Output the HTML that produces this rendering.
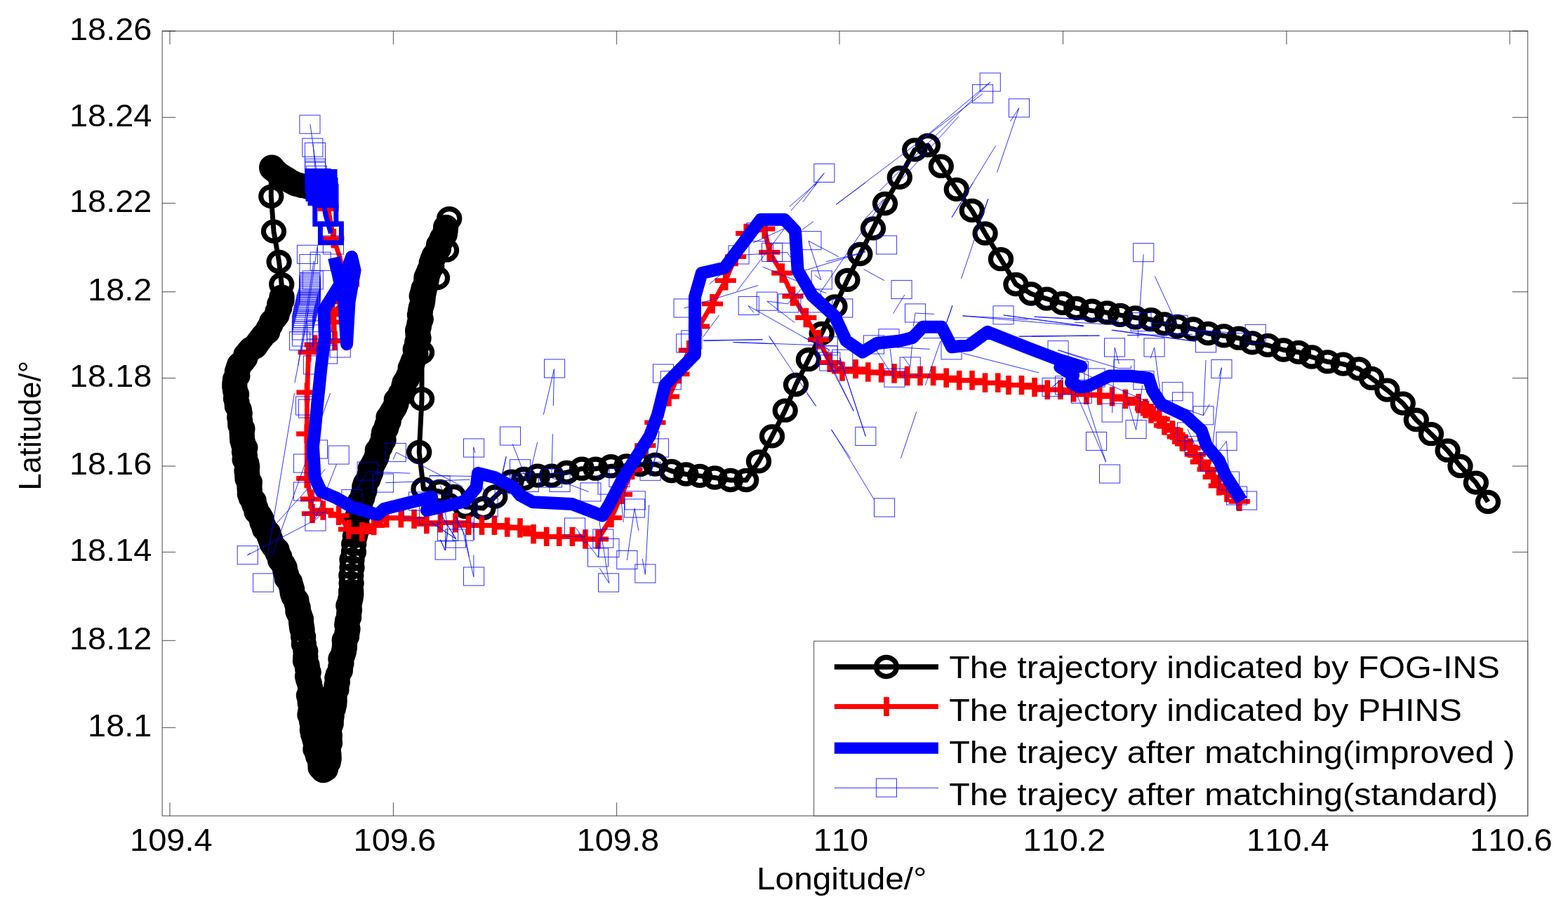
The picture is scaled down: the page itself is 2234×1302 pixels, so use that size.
<!DOCTYPE html>
<html lang="en"><head><meta charset="utf-8"><title>Trajectory comparison</title>
<style>html,body{margin:0;padding:0;background:#fff}body{width:2234px;height:1302px;overflow:hidden}svg{display:block;filter:blur(0.5px)}</style></head>
<body>
<svg width="2234" height="1302" viewBox="0 0 2234 1302" role="img" aria-label="Trajectory comparison chart">
<rect x="0" y="0" width="2234" height="1302" fill="#fff"/>
<g id="axes" fill="none" stroke="#000" stroke-opacity="0.55" stroke-width="1.3">
<rect x="231.2" y="44.3" width="1945.4" height="1117.9"/>
<line x1="242" y1="1162.2" x2="242" y2="1143.2"/>
<line x1="242" y1="44.3" x2="242" y2="63.3"/>
<line x1="560.5" y1="1162.2" x2="560.5" y2="1143.2"/>
<line x1="560.5" y1="44.3" x2="560.5" y2="63.3"/>
<line x1="878.5" y1="1162.2" x2="878.5" y2="1143.2"/>
<line x1="878.5" y1="44.3" x2="878.5" y2="63.3"/>
<line x1="1196" y1="1162.2" x2="1196" y2="1143.2"/>
<line x1="1196" y1="44.3" x2="1196" y2="63.3"/>
<line x1="1514.5" y1="1162.2" x2="1514.5" y2="1143.2"/>
<line x1="1514.5" y1="44.3" x2="1514.5" y2="63.3"/>
<line x1="1833" y1="1162.2" x2="1833" y2="1143.2"/>
<line x1="1833" y1="44.3" x2="1833" y2="63.3"/>
<line x1="2151" y1="1162.2" x2="2151" y2="1143.2"/>
<line x1="2151" y1="44.3" x2="2151" y2="63.3"/>
<line x1="231.2" y1="44.3" x2="250.2" y2="44.3"/>
<line x1="2176.6" y1="44.3" x2="2154.6" y2="44.3"/>
<line x1="231.2" y1="167.3" x2="250.2" y2="167.3"/>
<line x1="2176.6" y1="167.3" x2="2154.6" y2="167.3"/>
<line x1="231.2" y1="289.5" x2="250.2" y2="289.5"/>
<line x1="2176.6" y1="289.5" x2="2154.6" y2="289.5"/>
<line x1="231.2" y1="415.7" x2="250.2" y2="415.7"/>
<line x1="2176.6" y1="415.7" x2="2154.6" y2="415.7"/>
<line x1="231.2" y1="538.6" x2="250.2" y2="538.6"/>
<line x1="2176.6" y1="538.6" x2="2154.6" y2="538.6"/>
<line x1="231.2" y1="664" x2="250.2" y2="664"/>
<line x1="2176.6" y1="664" x2="2154.6" y2="664"/>
<line x1="231.2" y1="786.5" x2="250.2" y2="786.5"/>
<line x1="2176.6" y1="786.5" x2="2154.6" y2="786.5"/>
<line x1="231.2" y1="912.5" x2="250.2" y2="912.5"/>
<line x1="231.2" y1="1036.5" x2="250.2" y2="1036.5"/>
</g>
<g id="labels" font-family="'Liberation Sans', Arial, Helvetica, sans-serif" font-size="44.5" fill="#000" style="font-kerning:none">
<text transform="translate(243.9 1212.1) scale(1.058 1)" text-anchor="middle">109.4</text>
<text transform="translate(562.4 1212.1) scale(1.058 1)" text-anchor="middle">109.6</text>
<text transform="translate(880.4 1212.1) scale(1.058 1)" text-anchor="middle">109.8</text>
<text transform="translate(1197.9 1212.1) scale(1.058 1)" text-anchor="middle">110</text>
<text transform="translate(1516.4 1212.1) scale(1.058 1)" text-anchor="middle">110.2</text>
<text transform="translate(1834.9 1212.1) scale(1.058 1)" text-anchor="middle">110.4</text>
<text transform="translate(2152.9 1212.1) scale(1.058 1)" text-anchor="middle">110.6</text>
<text transform="translate(216.4 56.6) scale(1.055 1)" text-anchor="end">18.26</text>
<text transform="translate(216.4 179.6) scale(1.055 1)" text-anchor="end">18.24</text>
<text transform="translate(216.4 301.8) scale(1.055 1)" text-anchor="end">18.22</text>
<text transform="translate(216.4 428) scale(1.055 1)" text-anchor="end">18.2</text>
<text transform="translate(216.4 550.9) scale(1.055 1)" text-anchor="end">18.18</text>
<text transform="translate(216.4 676.3) scale(1.055 1)" text-anchor="end">18.16</text>
<text transform="translate(216.4 798.8) scale(1.055 1)" text-anchor="end">18.14</text>
<text transform="translate(216.4 924.8) scale(1.055 1)" text-anchor="end">18.12</text>
<text transform="translate(216.4 1048.8) scale(1.055 1)" text-anchor="end">18.1</text>
<text transform="translate(1078 1267.2) scale(1.074 1)" text-anchor="start">Longitude/°</text>
<text transform="translate(58.0 698.6) scale(1.0 0.98) rotate(-90)" text-anchor="start">Latitude/°</text>
</g>
<clipPath id="cp"><rect x="231.2" y="44.3" width="1945.4" height="1117.9"/></clipPath>
<g id="plot" clip-path="url(#cp)">
<g id="fog" stroke="#000" fill="none">
<polyline stroke-width="7" stroke-linejoin="round" points="455,268 429,265 408,255.6 394,245 386.5,240 386.3,236.5 386.3,279.8 390,329.6 397.6,373 401.2,405 401,422.5 398.5,439 384,466 371.6,484 353.7,501.7 341,521 335,541 335,559 338.5,577 342,595 344,613 347.4,635.8 352,671.6 357.3,707.4 371.6,739.7 386,770 400.3,797 414.6,835.8 425.3,868 430.7,896.7 430.7,896.7 434.3,925.3 435.6,936 435.6,936 437.9,954 441.4,979 441.5,1000 443,1021.6 448.6,1057.4 454.5,1083 458.5,1095.5 461.5,1099.3 465.5,1094 468,1080 468.8,1057.4 470.5,1030.6 475.5,1003.7 479,976.9 484.4,952.2 489.8,925.3 494.3,900.3 497,871.6 500,842 500,842 500.5,835.8 501.5,800 505,770 506.5,758 506.5,758 509.5,734.3 518.4,698.5 531,662.7 545.3,626.9 552.5,600 563,577 575.7,550 586.5,523 593.6,496 596,473 599,448 602.6,416 610,390 618.7,364.9 631,338 636.5,322 640.2,311.2 636,356.5 623,396 601,502 601,568.3 597.2,644 603.5,696.5 626.6,700 646.5,707 663,722 688.5,724 705.3,707.5 728.6,685.6 746.5,682 766,677.6 786,677.6 807.4,673 829,667.7 848.6,667.7 870.5,664.2 892.5,663.4 912,662 933.8,661.6 956.8,671 977.4,675.5 997,677.9 1018.5,680.5 1040.8,684 1063.2,684 1081,657.3 1100,621.4 1118.7,584.7 1134,548 1151.9,512.2 1170.7,474.9 1189.5,436.4 1207.4,398.8 1225.3,362 1244,325.4 1261,290 1281.8,252.8 1303.2,213.4 1322,207 1340.8,236.7 1362.8,269.8 1384.8,299.8 1403.6,332.5 1426,369.2 1447.4,405 1469,418.5 1491.3,425.6 1513.7,431.9 1533.4,439 1555.8,442.6 1577.2,445.3 1596,448.9 1617.5,452.5 1640,455.2 1658.7,461.4 1677.5,465 1700,468.5 1721.3,475 1743.6,478.3 1765,481.7 1784,488.4 1806.3,491.8 1828.7,498.5 1850,501.8 1869,508.5 1891.4,515.3 1913.7,518.6 1936,525.3 1954,538.8 1976.4,555.6 1998.8,574.6 2017.8,598 2039,618.2 2062.6,641.7 2080.5,664 2102.9,687.6 2120,715"/>
<g stroke-width="7.1">
<ellipse cx="455.1" cy="267.1" rx="14.6" ry="13.6"/>
<ellipse cx="452.1" cy="267.3" rx="14.6" ry="13.6"/>
<ellipse cx="449" cy="267.9" rx="14.6" ry="13.6"/>
<ellipse cx="446" cy="267.3" rx="14.6" ry="13.6"/>
<ellipse cx="443" cy="267" rx="14.6" ry="13.6"/>
<ellipse cx="440" cy="267" rx="14.6" ry="13.6"/>
<ellipse cx="437.1" cy="265.8" rx="14.6" ry="13.6"/>
<ellipse cx="434.2" cy="264.8" rx="14.6" ry="13.6"/>
<ellipse cx="431.2" cy="265" rx="14.6" ry="13.6"/>
<ellipse cx="428.4" cy="264.3" rx="14.6" ry="13.6"/>
<ellipse cx="425.7" cy="263" rx="14.6" ry="13.6"/>
<ellipse cx="422.6" cy="262.7" rx="14.6" ry="13.6"/>
<ellipse cx="419.7" cy="261.7" rx="14.6" ry="13.6"/>
<ellipse cx="417.2" cy="259.9" rx="14.6" ry="13.6"/>
<ellipse cx="414.4" cy="258.8" rx="14.6" ry="13.6"/>
<ellipse cx="411.8" cy="257.4" rx="14.6" ry="13.6"/>
<ellipse cx="409.4" cy="255.3" rx="14.6" ry="13.6"/>
<ellipse cx="407" cy="253.9" rx="14.6" ry="13.6"/>
<ellipse cx="404.1" cy="252.7" rx="14.6" ry="13.6"/>
<ellipse cx="401.8" cy="250.8" rx="14.6" ry="13.6"/>
<ellipse cx="399.3" cy="249.2" rx="14.6" ry="13.6"/>
<ellipse cx="396.4" cy="248" rx="14.6" ry="13.6"/>
<ellipse cx="394.3" cy="245.8" rx="14.6" ry="13.6"/>
<ellipse cx="392.3" cy="243.5" rx="14.6" ry="13.6"/>
<ellipse cx="389.6" cy="242.1" rx="14.6" ry="13.6"/>
<ellipse cx="387.4" cy="240" rx="14.6" ry="13.6"/>
<ellipse cx="387.3" cy="237.7" rx="14.6" ry="13.6"/>
<ellipse cx="386.3" cy="279.8" rx="14.6" ry="13.6"/>
<ellipse cx="390" cy="329.6" rx="14.6" ry="13.6"/>
<ellipse cx="397.6" cy="373" rx="14.6" ry="13.6"/>
<ellipse cx="401.2" cy="405" rx="14.6" ry="13.6"/>
<ellipse cx="401.5" cy="422.6" rx="14.6" ry="13.6"/>
<ellipse cx="401.5" cy="428.1" rx="14.6" ry="13.6"/>
<ellipse cx="398.2" cy="433.2" rx="14.6" ry="13.6"/>
<ellipse cx="398.2" cy="438.8" rx="14.6" ry="13.6"/>
<ellipse cx="395.5" cy="443.4" rx="14.6" ry="13.6"/>
<ellipse cx="394.5" cy="449.1" rx="14.6" ry="13.6"/>
<ellipse cx="391.2" cy="453.6" rx="14.6" ry="13.6"/>
<ellipse cx="387.3" cy="457.7" rx="14.6" ry="13.6"/>
<ellipse cx="385.3" cy="462.9" rx="14.6" ry="13.6"/>
<ellipse cx="382.5" cy="467.6" rx="14.6" ry="13.6"/>
<ellipse cx="381" cy="473.3" rx="14.6" ry="13.6"/>
<ellipse cx="376.2" cy="476.6" rx="14.6" ry="13.6"/>
<ellipse cx="372.9" cy="481" rx="14.6" ry="13.6"/>
<ellipse cx="369.6" cy="485.2" rx="14.6" ry="13.6"/>
<ellipse cx="366.3" cy="489.7" rx="14.6" ry="13.6"/>
<ellipse cx="363.2" cy="494.4" rx="14.6" ry="13.6"/>
<ellipse cx="357.6" cy="496.6" rx="14.6" ry="13.6"/>
<ellipse cx="354.1" cy="500.8" rx="14.6" ry="13.6"/>
<ellipse cx="350.5" cy="505.1" rx="14.6" ry="13.6"/>
<ellipse cx="349.1" cy="510.8" rx="14.6" ry="13.6"/>
<ellipse cx="345.7" cy="515.2" rx="14.6" ry="13.6"/>
<ellipse cx="341.3" cy="518.9" rx="14.6" ry="13.6"/>
<ellipse cx="339.6" cy="524.3" rx="14.6" ry="13.6"/>
<ellipse cx="337.9" cy="529.5" rx="14.6" ry="13.6"/>
<ellipse cx="338.4" cy="535.4" rx="14.6" ry="13.6"/>
<ellipse cx="335.1" cy="540.1" rx="14.6" ry="13.6"/>
<ellipse cx="334.4" cy="545.6" rx="14.6" ry="13.6"/>
<ellipse cx="334.3" cy="551.1" rx="14.6" ry="13.6"/>
<ellipse cx="335.1" cy="556.6" rx="14.6" ry="13.6"/>
<ellipse cx="337.1" cy="561.8" rx="14.6" ry="13.6"/>
<ellipse cx="336" cy="567.6" rx="14.6" ry="13.6"/>
<ellipse cx="337.4" cy="573" rx="14.6" ry="13.6"/>
<ellipse cx="337.8" cy="578.5" rx="14.6" ry="13.6"/>
<ellipse cx="340.8" cy="583.5" rx="14.6" ry="13.6"/>
<ellipse cx="341.7" cy="588.9" rx="14.6" ry="13.6"/>
<ellipse cx="341.2" cy="594.6" rx="14.6" ry="13.6"/>
<ellipse cx="342.1" cy="600" rx="14.6" ry="13.6"/>
<ellipse cx="342.3" cy="605.5" rx="14.6" ry="13.6"/>
<ellipse cx="345.4" cy="610.7" rx="14.6" ry="13.6"/>
<ellipse cx="344.6" cy="616.3" rx="14.6" ry="13.6"/>
<ellipse cx="344.9" cy="621.8" rx="14.6" ry="13.6"/>
<ellipse cx="345.3" cy="627.3" rx="14.6" ry="13.6"/>
<ellipse cx="346.8" cy="632.7" rx="14.6" ry="13.6"/>
<ellipse cx="349.3" cy="637.9" rx="14.6" ry="13.6"/>
<ellipse cx="348" cy="643.6" rx="14.6" ry="13.6"/>
<ellipse cx="348.9" cy="649" rx="14.6" ry="13.6"/>
<ellipse cx="348.6" cy="654.6" rx="14.6" ry="13.6"/>
<ellipse cx="351.3" cy="659.8" rx="14.6" ry="13.6"/>
<ellipse cx="352.2" cy="665.2" rx="14.6" ry="13.6"/>
<ellipse cx="351.5" cy="670.9" rx="14.6" ry="13.6"/>
<ellipse cx="352.3" cy="676.3" rx="14.6" ry="13.6"/>
<ellipse cx="352.5" cy="681.9" rx="14.6" ry="13.6"/>
<ellipse cx="355.8" cy="686.9" rx="14.6" ry="13.6"/>
<ellipse cx="355.4" cy="692.5" rx="14.6" ry="13.6"/>
<ellipse cx="355.7" cy="698.1" rx="14.6" ry="13.6"/>
<ellipse cx="355.8" cy="703.6" rx="14.6" ry="13.6"/>
<ellipse cx="357.6" cy="709" rx="14.6" ry="13.6"/>
<ellipse cx="361.6" cy="713.2" rx="14.6" ry="13.6"/>
<ellipse cx="362.2" cy="718.9" rx="14.6" ry="13.6"/>
<ellipse cx="364.5" cy="723.9" rx="14.6" ry="13.6"/>
<ellipse cx="365.6" cy="729.5" rx="14.6" ry="13.6"/>
<ellipse cx="369.6" cy="733.7" rx="14.6" ry="13.6"/>
<ellipse cx="372.3" cy="738.5" rx="14.6" ry="13.6"/>
<ellipse cx="373.4" cy="744" rx="14.6" ry="13.6"/>
<ellipse cx="375.6" cy="749.1" rx="14.6" ry="13.6"/>
<ellipse cx="377.2" cy="754.4" rx="14.6" ry="13.6"/>
<ellipse cx="381.9" cy="758.3" rx="14.6" ry="13.6"/>
<ellipse cx="383.5" cy="763.6" rx="14.6" ry="13.6"/>
<ellipse cx="385.4" cy="768.8" rx="14.6" ry="13.6"/>
<ellipse cx="387.1" cy="774.1" rx="14.6" ry="13.6"/>
<ellipse cx="390" cy="778.8" rx="14.6" ry="13.6"/>
<ellipse cx="394.4" cy="782.7" rx="14.6" ry="13.6"/>
<ellipse cx="395.7" cy="788.2" rx="14.6" ry="13.6"/>
<ellipse cx="398.3" cy="793.1" rx="14.6" ry="13.6"/>
<ellipse cx="399.3" cy="798.5" rx="14.6" ry="13.6"/>
<ellipse cx="402.9" cy="803.1" rx="14.6" ry="13.6"/>
<ellipse cx="405.5" cy="808" rx="14.6" ry="13.6"/>
<ellipse cx="406.4" cy="813.5" rx="14.6" ry="13.6"/>
<ellipse cx="408.1" cy="818.8" rx="14.6" ry="13.6"/>
<ellipse cx="408.8" cy="824.3" rx="14.6" ry="13.6"/>
<ellipse cx="413.1" cy="828.6" rx="14.6" ry="13.6"/>
<ellipse cx="414.5" cy="834" rx="14.6" ry="13.6"/>
<ellipse cx="416" cy="839.3" rx="14.6" ry="13.6"/>
<ellipse cx="416.7" cy="844.9" rx="14.6" ry="13.6"/>
<ellipse cx="418.4" cy="850.1" rx="14.6" ry="13.6"/>
<ellipse cx="422.3" cy="854.6" rx="14.6" ry="13.6"/>
<ellipse cx="422.9" cy="860.2" rx="14.6" ry="13.6"/>
<ellipse cx="424.7" cy="865.4" rx="14.6" ry="13.6"/>
<ellipse cx="424.4" cy="871" rx="14.6" ry="13.6"/>
<ellipse cx="426.9" cy="876.2" rx="14.6" ry="13.6"/>
<ellipse cx="428.9" cy="881.4" rx="14.6" ry="13.6"/>
<ellipse cx="429.1" cy="886.9" rx="14.6" ry="13.6"/>
<ellipse cx="429.8" cy="892.4" rx="14.6" ry="13.6"/>
<ellipse cx="430.6" cy="896.7" rx="14.6" ry="13.6"/>
<ellipse cx="432.1" cy="907" rx="14.6" ry="13.6"/>
<ellipse cx="432.9" cy="917.4" rx="14.6" ry="13.6"/>
<ellipse cx="435.3" cy="927.6" rx="14.6" ry="13.6"/>
<ellipse cx="435.3" cy="936" rx="14.6" ry="13.6"/>
<ellipse cx="435" cy="941.6" rx="14.6" ry="13.6"/>
<ellipse cx="437.4" cy="946.9" rx="14.6" ry="13.6"/>
<ellipse cx="438" cy="952.3" rx="14.6" ry="13.6"/>
<ellipse cx="439.7" cy="957.6" rx="14.6" ry="13.6"/>
<ellipse cx="438" cy="963.4" rx="14.6" ry="13.6"/>
<ellipse cx="439.3" cy="968.8" rx="14.6" ry="13.6"/>
<ellipse cx="441" cy="974.1" rx="14.6" ry="13.6"/>
<ellipse cx="442.1" cy="979.6" rx="14.6" ry="13.6"/>
<ellipse cx="442.2" cy="985.1" rx="14.6" ry="13.6"/>
<ellipse cx="439.9" cy="990.6" rx="14.6" ry="13.6"/>
<ellipse cx="441.5" cy="996.1" rx="14.6" ry="13.6"/>
<ellipse cx="441.7" cy="1001.6" rx="14.6" ry="13.6"/>
<ellipse cx="443.2" cy="1007" rx="14.6" ry="13.6"/>
<ellipse cx="442.3" cy="1012.6" rx="14.6" ry="13.6"/>
<ellipse cx="441.4" cy="1018.2" rx="14.6" ry="13.6"/>
<ellipse cx="443.5" cy="1023.5" rx="14.6" ry="13.6"/>
<ellipse cx="444.3" cy="1028.9" rx="14.6" ry="13.6"/>
<ellipse cx="446.4" cy="1034.2" rx="14.6" ry="13.6"/>
<ellipse cx="444.9" cy="1040" rx="14.6" ry="13.6"/>
<ellipse cx="446" cy="1045.4" rx="14.6" ry="13.6"/>
<ellipse cx="447.6" cy="1050.7" rx="14.6" ry="13.6"/>
<ellipse cx="449" cy="1056" rx="14.6" ry="13.6"/>
<ellipse cx="450.6" cy="1061.3" rx="14.6" ry="13.6"/>
<ellipse cx="449.4" cy="1067.2" rx="14.6" ry="13.6"/>
<ellipse cx="451.8" cy="1072.3" rx="14.6" ry="13.6"/>
<ellipse cx="453.1" cy="1077.6" rx="14.6" ry="13.6"/>
<ellipse cx="455.7" cy="1082.7" rx="14.6" ry="13.6"/>
<ellipse cx="456.3" cy="1088.1" rx="14.6" ry="13.6"/>
<ellipse cx="456.6" cy="1093.8" rx="14.6" ry="13.6"/>
<ellipse cx="460.6" cy="1098.1" rx="14.6" ry="13.6"/>
<ellipse cx="463.9" cy="1096.1" rx="14.6" ry="13.6"/>
<ellipse cx="464.5" cy="1090.9" rx="14.6" ry="13.6"/>
<ellipse cx="467.7" cy="1085.9" rx="14.6" ry="13.6"/>
<ellipse cx="468.7" cy="1080.5" rx="14.6" ry="13.6"/>
<ellipse cx="468.4" cy="1074.9" rx="14.6" ry="13.6"/>
<ellipse cx="467.8" cy="1069.4" rx="14.6" ry="13.6"/>
<ellipse cx="467.3" cy="1063.8" rx="14.6" ry="13.6"/>
<ellipse cx="470" cy="1058.4" rx="14.6" ry="13.6"/>
<ellipse cx="469.4" cy="1052.9" rx="14.6" ry="13.6"/>
<ellipse cx="469.8" cy="1047.4" rx="14.6" ry="13.6"/>
<ellipse cx="468.6" cy="1041.8" rx="14.6" ry="13.6"/>
<ellipse cx="469.7" cy="1036.4" rx="14.6" ry="13.6"/>
<ellipse cx="471.7" cy="1031" rx="14.6" ry="13.6"/>
<ellipse cx="471.6" cy="1025.6" rx="14.6" ry="13.6"/>
<ellipse cx="472.6" cy="1020.2" rx="14.6" ry="13.6"/>
<ellipse cx="471.9" cy="1014.4" rx="14.6" ry="13.6"/>
<ellipse cx="474.9" cy="1009.4" rx="14.6" ry="13.6"/>
<ellipse cx="476.2" cy="1004" rx="14.6" ry="13.6"/>
<ellipse cx="476.6" cy="998.5" rx="14.6" ry="13.6"/>
<ellipse cx="476.5" cy="992.9" rx="14.6" ry="13.6"/>
<ellipse cx="476.2" cy="987.4" rx="14.6" ry="13.6"/>
<ellipse cx="479.4" cy="982.2" rx="14.6" ry="13.6"/>
<ellipse cx="479.4" cy="976.7" rx="14.6" ry="13.6"/>
<ellipse cx="480.8" cy="971.4" rx="14.6" ry="13.6"/>
<ellipse cx="480.3" cy="965.6" rx="14.6" ry="13.6"/>
<ellipse cx="481.9" cy="960.4" rx="14.6" ry="13.6"/>
<ellipse cx="484.8" cy="955.4" rx="14.6" ry="13.6"/>
<ellipse cx="485.2" cy="949.8" rx="14.6" ry="13.6"/>
<ellipse cx="486.4" cy="944.5" rx="14.6" ry="13.6"/>
<ellipse cx="485.4" cy="938.7" rx="14.6" ry="13.6"/>
<ellipse cx="488.3" cy="933.6" rx="14.6" ry="13.6"/>
<ellipse cx="489.9" cy="928.3" rx="14.6" ry="13.6"/>
<ellipse cx="490.8" cy="922.9" rx="14.6" ry="13.6"/>
<ellipse cx="491" cy="917.3" rx="14.6" ry="13.6"/>
<ellipse cx="490.7" cy="911.7" rx="14.6" ry="13.6"/>
<ellipse cx="494" cy="906.7" rx="14.6" ry="13.6"/>
<ellipse cx="494.5" cy="901.2" rx="14.6" ry="13.6"/>
<ellipse cx="495.5" cy="895.8" rx="14.6" ry="13.6"/>
<ellipse cx="494.2" cy="890.1" rx="14.6" ry="13.6"/>
<ellipse cx="494.9" cy="884.6" rx="14.6" ry="13.6"/>
<ellipse cx="497.1" cy="879.3" rx="14.6" ry="13.6"/>
<ellipse cx="497.2" cy="873.8" rx="14.6" ry="13.6"/>
<ellipse cx="498" cy="868.4" rx="14.6" ry="13.6"/>
<ellipse cx="496.3" cy="862.7" rx="14.6" ry="13.6"/>
<ellipse cx="498.4" cy="857.4" rx="14.6" ry="13.6"/>
<ellipse cx="499.6" cy="851.9" rx="14.6" ry="13.6"/>
<ellipse cx="500.3" cy="846.5" rx="14.6" ry="13.6"/>
<ellipse cx="500.2" cy="842" rx="14.6" ry="13.6"/>
<ellipse cx="500.6" cy="830.8" rx="14.6" ry="13.6"/>
<ellipse cx="500.3" cy="819.6" rx="14.6" ry="13.6"/>
<ellipse cx="501.5" cy="808.4" rx="14.6" ry="13.6"/>
<ellipse cx="501.5" cy="797.2" rx="14.6" ry="13.6"/>
<ellipse cx="503.9" cy="786.2" rx="14.6" ry="13.6"/>
<ellipse cx="504.2" cy="775" rx="14.6" ry="13.6"/>
<ellipse cx="505.8" cy="763.9" rx="14.6" ry="13.6"/>
<ellipse cx="507.3" cy="758.1" rx="14.6" ry="13.6"/>
<ellipse cx="507.6" cy="752.6" rx="14.6" ry="13.6"/>
<ellipse cx="508.6" cy="747.2" rx="14.6" ry="13.6"/>
<ellipse cx="507" cy="741.4" rx="14.6" ry="13.6"/>
<ellipse cx="509.2" cy="736.2" rx="14.6" ry="13.6"/>
<ellipse cx="510.9" cy="730.9" rx="14.6" ry="13.6"/>
<ellipse cx="512.5" cy="725.6" rx="14.6" ry="13.6"/>
<ellipse cx="513.1" cy="720.1" rx="14.6" ry="13.6"/>
<ellipse cx="512.8" cy="714.4" rx="14.6" ry="13.6"/>
<ellipse cx="516.2" cy="709.6" rx="14.6" ry="13.6"/>
<ellipse cx="517.3" cy="704.2" rx="14.6" ry="13.6"/>
<ellipse cx="519.4" cy="699" rx="14.6" ry="13.6"/>
<ellipse cx="519.3" cy="693.3" rx="14.6" ry="13.6"/>
<ellipse cx="521" cy="688" rx="14.6" ry="13.6"/>
<ellipse cx="524.3" cy="683.4" rx="14.6" ry="13.6"/>
<ellipse cx="526" cy="678.2" rx="14.6" ry="13.6"/>
<ellipse cx="528.3" cy="673.1" rx="14.6" ry="13.6"/>
<ellipse cx="527.8" cy="667.1" rx="14.6" ry="13.6"/>
<ellipse cx="530.9" cy="662.4" rx="14.6" ry="13.6"/>
<ellipse cx="533.5" cy="657.5" rx="14.6" ry="13.6"/>
<ellipse cx="536" cy="652.6" rx="14.6" ry="13.6"/>
<ellipse cx="537.5" cy="647.2" rx="14.6" ry="13.6"/>
<ellipse cx="537.8" cy="641.4" rx="14.6" ry="13.6"/>
<ellipse cx="541.6" cy="637" rx="14.6" ry="13.6"/>
<ellipse cx="543.5" cy="631.9" rx="14.6" ry="13.6"/>
<ellipse cx="546.6" cy="627" rx="14.6" ry="13.6"/>
<ellipse cx="546.2" cy="621.2" rx="14.6" ry="13.6"/>
<ellipse cx="547.1" cy="615.8" rx="14.6" ry="13.6"/>
<ellipse cx="550" cy="610.8" rx="14.6" ry="13.6"/>
<ellipse cx="551.4" cy="605.5" rx="14.6" ry="13.6"/>
<ellipse cx="553.6" cy="600.4" rx="14.6" ry="13.6"/>
<ellipse cx="553.5" cy="594.5" rx="14.6" ry="13.6"/>
<ellipse cx="556.6" cy="589.9" rx="14.6" ry="13.6"/>
<ellipse cx="559.4" cy="585.2" rx="14.6" ry="13.6"/>
<ellipse cx="562.4" cy="580.5" rx="14.6" ry="13.6"/>
<ellipse cx="564.4" cy="575.4" rx="14.6" ry="13.6"/>
<ellipse cx="564.8" cy="569.5" rx="14.6" ry="13.6"/>
<ellipse cx="568.6" cy="565.2" rx="14.6" ry="13.6"/>
<ellipse cx="570.9" cy="560.2" rx="14.6" ry="13.6"/>
<ellipse cx="574.5" cy="555.8" rx="14.6" ry="13.6"/>
<ellipse cx="575.3" cy="550.1" rx="14.6" ry="13.6"/>
<ellipse cx="576.6" cy="544.7" rx="14.6" ry="13.6"/>
<ellipse cx="579.8" cy="540.1" rx="14.6" ry="13.6"/>
<ellipse cx="582" cy="535" rx="14.6" ry="13.6"/>
<ellipse cx="585.1" cy="530.3" rx="14.6" ry="13.6"/>
<ellipse cx="584.7" cy="524.3" rx="14.6" ry="13.6"/>
<ellipse cx="586.9" cy="519.3" rx="14.6" ry="13.6"/>
<ellipse cx="588.7" cy="514.1" rx="14.6" ry="13.6"/>
<ellipse cx="591.1" cy="509" rx="14.6" ry="13.6"/>
<ellipse cx="592.4" cy="503.7" rx="14.6" ry="13.6"/>
<ellipse cx="591.7" cy="497.8" rx="14.6" ry="13.6"/>
<ellipse cx="593.8" cy="492.8" rx="14.6" ry="13.6"/>
<ellipse cx="594.3" cy="487.3" rx="14.6" ry="13.6"/>
<ellipse cx="596.5" cy="482" rx="14.6" ry="13.6"/>
<ellipse cx="595.5" cy="476.3" rx="14.6" ry="13.6"/>
<ellipse cx="595.1" cy="470.8" rx="14.6" ry="13.6"/>
<ellipse cx="596.8" cy="465.4" rx="14.6" ry="13.6"/>
<ellipse cx="597.7" cy="460" rx="14.6" ry="13.6"/>
<ellipse cx="599.8" cy="454.7" rx="14.6" ry="13.6"/>
<ellipse cx="598" cy="448.9" rx="14.6" ry="13.6"/>
<ellipse cx="598.9" cy="443.5" rx="14.6" ry="13.6"/>
<ellipse cx="599.8" cy="438.1" rx="14.6" ry="13.6"/>
<ellipse cx="601.5" cy="432.7" rx="14.6" ry="13.6"/>
<ellipse cx="602.4" cy="427.3" rx="14.6" ry="13.6"/>
<ellipse cx="600.7" cy="421.6" rx="14.6" ry="13.6"/>
<ellipse cx="602.3" cy="416.2" rx="14.6" ry="13.6"/>
<ellipse cx="603.6" cy="410.8" rx="14.6" ry="13.6"/>
<ellipse cx="606.9" cy="406.1" rx="14.6" ry="13.6"/>
<ellipse cx="607.2" cy="400.4" rx="14.6" ry="13.6"/>
<ellipse cx="607.5" cy="394.8" rx="14.6" ry="13.6"/>
<ellipse cx="609.8" cy="389.7" rx="14.6" ry="13.6"/>
<ellipse cx="611.8" cy="384.6" rx="14.6" ry="13.6"/>
<ellipse cx="615.2" cy="379.9" rx="14.6" ry="13.6"/>
<ellipse cx="614.8" cy="374" rx="14.6" ry="13.6"/>
<ellipse cx="616.7" cy="368.8" rx="14.6" ry="13.6"/>
<ellipse cx="618.7" cy="363.6" rx="14.6" ry="13.6"/>
<ellipse cx="622" cy="359.1" rx="14.6" ry="13.6"/>
<ellipse cx="624.9" cy="354.4" rx="14.6" ry="13.6"/>
<ellipse cx="625.1" cy="348.4" rx="14.6" ry="13.6"/>
<ellipse cx="628" cy="343.7" rx="14.6" ry="13.6"/>
<ellipse cx="630" cy="338.6" rx="14.6" ry="13.6"/>
<ellipse cx="633.8" cy="334.1" rx="14.6" ry="13.6"/>
<ellipse cx="634.6" cy="328.6" rx="14.6" ry="13.6"/>
<ellipse cx="635.2" cy="323" rx="14.6" ry="13.6"/>
<ellipse cx="640.2" cy="311.2" rx="14.6" ry="13.6"/>
<ellipse cx="636" cy="356.5" rx="14.6" ry="13.6"/>
<ellipse cx="623" cy="396" rx="14.6" ry="13.6"/>
<ellipse cx="601" cy="502" rx="14.6" ry="13.6"/>
<ellipse cx="601" cy="568.3" rx="14.6" ry="13.6"/>
<ellipse cx="597.2" cy="644" rx="14.6" ry="13.6"/>
<ellipse cx="603.5" cy="696.5" rx="14.6" ry="13.6"/>
<ellipse cx="626.6" cy="700" rx="14.6" ry="13.6"/>
<ellipse cx="646.5" cy="707" rx="14.6" ry="13.6"/>
<ellipse cx="663" cy="722" rx="14.6" ry="13.6"/>
<ellipse cx="688.5" cy="724" rx="14.6" ry="13.6"/>
<ellipse cx="705.3" cy="707.5" rx="14.6" ry="13.6"/>
<ellipse cx="728.6" cy="685.6" rx="14.6" ry="13.6"/>
<ellipse cx="746.5" cy="682" rx="14.6" ry="13.6"/>
<ellipse cx="766" cy="677.6" rx="14.6" ry="13.6"/>
<ellipse cx="786" cy="677.6" rx="14.6" ry="13.6"/>
<ellipse cx="807.4" cy="673" rx="14.6" ry="13.6"/>
<ellipse cx="829" cy="667.7" rx="14.6" ry="13.6"/>
<ellipse cx="848.6" cy="667.7" rx="14.6" ry="13.6"/>
<ellipse cx="870.5" cy="664.2" rx="14.6" ry="13.6"/>
<ellipse cx="892.5" cy="663.4" rx="14.6" ry="13.6"/>
<ellipse cx="912" cy="662" rx="14.6" ry="13.6"/>
<ellipse cx="933.8" cy="661.6" rx="14.6" ry="13.6"/>
<ellipse cx="956.8" cy="671" rx="14.6" ry="13.6"/>
<ellipse cx="977.4" cy="675.5" rx="14.6" ry="13.6"/>
<ellipse cx="997" cy="677.9" rx="14.6" ry="13.6"/>
<ellipse cx="1018.5" cy="680.5" rx="14.6" ry="13.6"/>
<ellipse cx="1040.8" cy="684" rx="14.6" ry="13.6"/>
<ellipse cx="1063.2" cy="684" rx="14.6" ry="13.6"/>
<ellipse cx="1081" cy="657.3" rx="14.6" ry="13.6"/>
<ellipse cx="1100" cy="621.4" rx="14.6" ry="13.6"/>
<ellipse cx="1118.7" cy="584.7" rx="14.6" ry="13.6"/>
<ellipse cx="1134" cy="548" rx="14.6" ry="13.6"/>
<ellipse cx="1151.9" cy="512.2" rx="14.6" ry="13.6"/>
<ellipse cx="1170.7" cy="474.9" rx="14.6" ry="13.6"/>
<ellipse cx="1189.5" cy="436.4" rx="14.6" ry="13.6"/>
<ellipse cx="1207.4" cy="398.8" rx="14.6" ry="13.6"/>
<ellipse cx="1225.3" cy="362" rx="14.6" ry="13.6"/>
<ellipse cx="1244" cy="325.4" rx="14.6" ry="13.6"/>
<ellipse cx="1261" cy="290" rx="14.6" ry="13.6"/>
<ellipse cx="1281.8" cy="252.8" rx="14.6" ry="13.6"/>
<ellipse cx="1303.2" cy="213.4" rx="14.6" ry="13.6"/>
<ellipse cx="1322" cy="207" rx="14.6" ry="13.6"/>
<ellipse cx="1340.8" cy="236.7" rx="14.6" ry="13.6"/>
<ellipse cx="1362.8" cy="269.8" rx="14.6" ry="13.6"/>
<ellipse cx="1384.8" cy="299.8" rx="14.6" ry="13.6"/>
<ellipse cx="1403.6" cy="332.5" rx="14.6" ry="13.6"/>
<ellipse cx="1426" cy="369.2" rx="14.6" ry="13.6"/>
<ellipse cx="1447.4" cy="405" rx="14.6" ry="13.6"/>
<ellipse cx="1469" cy="418.5" rx="14.6" ry="13.6"/>
<ellipse cx="1491.3" cy="425.6" rx="14.6" ry="13.6"/>
<ellipse cx="1513.7" cy="431.9" rx="14.6" ry="13.6"/>
<ellipse cx="1533.4" cy="439" rx="14.6" ry="13.6"/>
<ellipse cx="1555.8" cy="442.6" rx="14.6" ry="13.6"/>
<ellipse cx="1577.2" cy="445.3" rx="14.6" ry="13.6"/>
<ellipse cx="1596" cy="448.9" rx="14.6" ry="13.6"/>
<ellipse cx="1617.5" cy="452.5" rx="14.6" ry="13.6"/>
<ellipse cx="1640" cy="455.2" rx="14.6" ry="13.6"/>
<ellipse cx="1658.7" cy="461.4" rx="14.6" ry="13.6"/>
<ellipse cx="1677.5" cy="465" rx="14.6" ry="13.6"/>
<ellipse cx="1700" cy="468.5" rx="14.6" ry="13.6"/>
<ellipse cx="1721.3" cy="475" rx="14.6" ry="13.6"/>
<ellipse cx="1743.6" cy="478.3" rx="14.6" ry="13.6"/>
<ellipse cx="1765" cy="481.7" rx="14.6" ry="13.6"/>
<ellipse cx="1784" cy="488.4" rx="14.6" ry="13.6"/>
<ellipse cx="1806.3" cy="491.8" rx="14.6" ry="13.6"/>
<ellipse cx="1828.7" cy="498.5" rx="14.6" ry="13.6"/>
<ellipse cx="1850" cy="501.8" rx="14.6" ry="13.6"/>
<ellipse cx="1869" cy="508.5" rx="14.6" ry="13.6"/>
<ellipse cx="1891.4" cy="515.3" rx="14.6" ry="13.6"/>
<ellipse cx="1913.7" cy="518.6" rx="14.6" ry="13.6"/>
<ellipse cx="1936" cy="525.3" rx="14.6" ry="13.6"/>
<ellipse cx="1954" cy="538.8" rx="14.6" ry="13.6"/>
<ellipse cx="1976.4" cy="555.6" rx="14.6" ry="13.6"/>
<ellipse cx="1998.8" cy="574.6" rx="14.6" ry="13.6"/>
<ellipse cx="2017.8" cy="598" rx="14.6" ry="13.6"/>
<ellipse cx="2039" cy="618.2" rx="14.6" ry="13.6"/>
<ellipse cx="2062.6" cy="641.7" rx="14.6" ry="13.6"/>
<ellipse cx="2080.5" cy="664" rx="14.6" ry="13.6"/>
<ellipse cx="2102.9" cy="687.6" rx="14.6" ry="13.6"/>
<ellipse cx="2120" cy="715" rx="14.6" ry="13.6"/>
</g></g>
<g id="phins" stroke="#f00" fill="none">
<polyline stroke-width="6.8" stroke-linejoin="round" points="467.5,297.7 475.3,339.8 484,366 488,385 497,405 489,430 473.7,448 475.5,458.8 477,485.6 448.6,491 439.7,501.8 437.5,559 437.2,618 437.2,681.5 443,711 445,731.6 460.2,727 482.6,734.3 497,754 515.8,757.6 532.8,748.6 550.7,737.9 571.3,737.9 590,739.4 607.8,746.5 627.4,744.7 649,744.7 667.7,748.3 686.5,748.3 704.4,748.3 722.7,751 741,752 760,760.8 778.7,764.4 796.7,764.4 815.4,764.4 834,768 852,768 871,737.6 886,704.4 900.5,669.5 919.3,634.6 933.4,601.8 953,565 967.4,532.8 981.8,498.8 996,465 1015,432.8 1033.7,399.7 1048,365.6 1063.2,332.5 1089.2,326 1096.3,359.4 1114.3,389 1129.5,422 1148.3,452.5 1166.2,483.8 1182.2,516.3 1200,529 1219,525.6 1236.8,530 1255.6,531 1274,532 1292.7,535.5 1311,535.5 1329.6,535.5 1348.2,538.2 1366.7,541.8 1385,541.8 1403.5,545.3 1421.8,545.3 1437,548.6 1455.5,548.6 1474,551.6 1492.3,555.2 1510.8,555.2 1529.6,558.8 1547.9,562.2 1566.7,563 1584.6,564.9 1603.4,568.5 1622.2,574.7 1632,582 1640,589 1651.7,597 1659,606 1670.5,613 1677.7,622 1685,629.4 1695.6,638.3 1702.8,647.3 1710.8,658 1720.7,668.7 1728.7,679.5 1736.8,692 1748,701.5 1765.8,714.4"/>
<path stroke-width="6.8" d="M452.4 297.7h30.2M460.2 339.8h30.2M481.9 405h30.2M473.9 430h30.2M458.6 448h30.2M460.4 458.8h30.2M461.9 485.6h30.2M433.5 491h30.2M424.6 501.8h30.2M422.4 559h30.2M422.1 618h30.2M422.1 681.5h30.2M427.9 711h30.2M429.9 731.6h30.2M445.1 727h30.2M467.5 734.3h30.2M481.9 754h30.2M500.7 757.6h30.2M517.7 748.6h30.2M535.6 737.9h30.2M556.2 737.9h30.2M574.9 739.4h30.2M592.7 746.5h30.2M612.3 744.7h30.2M633.9 744.7h30.2M652.6 748.3h30.2M671.4 748.3h30.2M689.3 748.3h30.2M707.6 751h30.2M725.9 752h30.2M744.9 760.8h30.2M763.6 764.4h30.2M781.6 764.4h30.2M800.3 764.4h30.2M818.9 768h30.2M836.9 768h30.2M855.9 737.6h30.2M870.9 704.4h30.2M885.4 669.5h30.2M904.2 634.6h30.2M918.3 601.8h30.2M937.9 565h30.2M952.3 532.8h30.2M966.7 498.8h30.2M980.9 465h30.2M999.9 432.8h30.2M1018.6 399.7h30.2M1032.9 365.6h30.2M1048.1 332.5h30.2M1074.1 326h30.2M1081.2 359.4h30.2M1099.2 389h30.2M1114.4 422h30.2M1133.2 452.5h30.2M1151.1 483.8h30.2M1167.1 516.3h30.2M1184.9 529h30.2M1203.9 525.6h30.2M1221.7 530h30.2M1240.5 531h30.2M1258.9 532h30.2M1277.6 535.5h30.2M1295.9 535.5h30.2M1314.5 535.5h30.2M1333.1 538.2h30.2M1351.6 541.8h30.2M1369.9 541.8h30.2M1388.4 545.3h30.2M1406.7 545.3h30.2M1421.9 548.6h30.2M1440.4 548.6h30.2M1458.9 551.6h30.2M1477.2 555.2h30.2M1495.7 555.2h30.2M1514.5 558.8h30.2M1532.8 562.2h30.2M1551.6 563h30.2M1569.5 564.9h30.2M1588.3 568.5h30.2M1607.1 574.7h30.2M1616.9 582h30.2M1624.9 589h30.2M1636.6 597h30.2M1643.9 606h30.2M1655.4 613h30.2M1662.6 622h30.2M1669.9 629.4h30.2M1680.5 638.3h30.2M1687.7 647.3h30.2M1695.7 658h30.2M1705.6 668.7h30.2M1713.6 679.5h30.2M1721.7 692h30.2M1732.9 701.5h30.2M1750.7 714.4h30.2"/>
<path stroke-width="7.6" d="M467.5 284v27.4M475.3 326.1v27.4M497 391.3v27.4M489 416.3v27.4M473.7 434.3v27.4M475.5 445.1v27.4M477 471.9v27.4M448.6 477.3v27.4M439.7 488.1v27.4M437.5 545.3v27.4M437.2 604.3v27.4M437.2 667.8v27.4M443 697.3v27.4M445 717.9v27.4M460.2 713.3v27.4M482.6 720.6v27.4M497 740.3v27.4M515.8 743.9v27.4M532.8 734.9v27.4M550.7 724.2v27.4M571.3 724.2v27.4M590 725.7v27.4M607.8 732.8v27.4M627.4 731v27.4M649 731v27.4M667.7 734.6v27.4M686.5 734.6v27.4M704.4 734.6v27.4M722.7 737.3v27.4M741 738.3v27.4M760 747.1v27.4M778.7 750.7v27.4M796.7 750.7v27.4M815.4 750.7v27.4M834 754.3v27.4M852 754.3v27.4M871 723.9v27.4M886 690.7v27.4M900.5 655.8v27.4M919.3 620.9v27.4M933.4 588.1v27.4M953 551.3v27.4M967.4 519.1v27.4M981.8 485.1v27.4M996 451.3v27.4M1015 419.1v27.4M1033.7 386v27.4M1048 351.9v27.4M1063.2 318.8v27.4M1089.2 312.3v27.4M1096.3 345.7v27.4M1114.3 375.3v27.4M1129.5 408.3v27.4M1148.3 438.8v27.4M1166.2 470.1v27.4M1182.2 502.6v27.4M1200 515.3v27.4M1219 511.9v27.4M1236.8 516.3v27.4M1255.6 517.3v27.4M1274 518.3v27.4M1292.7 521.8v27.4M1311 521.8v27.4M1329.6 521.8v27.4M1348.2 524.5v27.4M1366.7 528.1v27.4M1385 528.1v27.4M1403.5 531.6v27.4M1421.8 531.6v27.4M1437 534.9v27.4M1455.5 534.9v27.4M1474 537.9v27.4M1492.3 541.5v27.4M1510.8 541.5v27.4M1529.6 545.1v27.4M1547.9 548.5v27.4M1566.7 549.3v27.4M1584.6 551.2v27.4M1603.4 554.8v27.4M1622.2 561v27.4M1632 568.3v27.4M1640 575.3v27.4M1651.7 583.3v27.4M1659 592.3v27.4M1670.5 599.3v27.4M1677.7 608.3v27.4M1685 615.7v27.4M1695.6 624.6v27.4M1702.8 633.6v27.4M1710.8 644.3v27.4M1720.7 655v27.4M1728.7 665.8v27.4M1736.8 678.3v27.4M1748 687.8v27.4M1765.8 700.7v27.4"/>
</g>
<g id="start" stroke="#00f" fill="none" stroke-width="7">
<polyline points="457,262 463.8,305.8 471.4,332.3"/>
<rect x="438" y="243.5" width="30" height="27"/>
<rect x="439.1" y="245.7" width="30" height="27"/>
<rect x="440.2" y="247.9" width="30" height="27"/>
<rect x="441.3" y="250.1" width="30" height="27"/>
<rect x="442.4" y="252.3" width="30" height="27"/>
<rect x="443.5" y="254.5" width="30" height="27"/>
<rect x="444.6" y="256.7" width="30" height="27"/>
<rect x="445.7" y="258.9" width="30" height="27"/>
<rect x="446.8" y="261.1" width="30" height="27"/>
<rect x="447.9" y="263.3" width="30" height="27"/>
<rect x="449" y="265.5" width="30" height="27"/>
<rect x="440" y="248.5" width="30" height="27"/>
<rect x="447" y="244.5" width="30" height="27"/>
<rect x="442" y="262.5" width="30" height="27"/>
<rect x="448" y="256.5" width="30" height="27"/>
<rect x="439" y="256.5" width="30" height="27"/>
<rect x="448.8" y="292.3" width="30" height="27"/>
<rect x="456.4" y="318.8" width="30" height="27"/>
</g>
<polyline id="improved" stroke="#00f" fill="none" stroke-width="18" stroke-linejoin="round" points="476,367 482,392 490,430 494,490.2 497.5,430 505.5,385 501,366 490,396 461.6,441.5 462.8,480.3 457.6,523 452,577 448.6,613 446,636 448.6,680.6 457.6,700.3 479,709.2 500.5,721.8 538,733.4 547,725 615,708 608,727 661.7,714.6 678.5,694.6 681,674 705.3,680.3 732.2,694.6 741,705.3 759,715.2 814.6,717.9 858.3,734.6 868.5,718 888,680.3 925.6,621.2 937,591 947.7,548 990,505 990,423 999.7,389 1032,381.8 1083.8,312.8 1117.8,312.8 1133,329 1136.6,385.3 1157.2,421 1189.4,450.4 1205.5,485.4 1228.8,501.5 1249.4,489 1282.5,485.4 1300.4,480.9 1314.7,465.7 1341.6,465.7 1356,494.3 1381,491.6 1407,472.8 1463.3,495.2 1508,512.2 1540.5,522 1510.3,522.8 1529,534.5 1526,545 1538,551.5 1548.8,550.6 1581,535.4 1609.7,535.4 1636.5,539 1641.9,556 1654.4,575.6 1688.4,591.8 1711.7,613.2 1718.9,634.7 1736.8,656 1746,677 1769,713.3"/>
<g id="standard" stroke="#00f" stroke-opacity="0.8" fill="none" stroke-width="1">
<rect x="426.9" y="164.1" width="29.1" height="26.1"/>
<rect x="430.8" y="197.2" width="29.1" height="26.1"/>
<rect x="434.4" y="203.5" width="29.1" height="26.1"/>
<rect x="434.6" y="226.4" width="29.1" height="26.1"/>
<rect x="434.6" y="231.4" width="29.1" height="26.1"/>
<rect x="436.4" y="236.4" width="29.1" height="26.1"/>
<rect x="423.4" y="349.3" width="29.1" height="26.1"/>
<rect x="460.4" y="335.9" width="29.1" height="26.1"/>
<rect x="442.1" y="359.2" width="29.1" height="26.1"/>
<rect x="426.9" y="362.6" width="29.1" height="26.1"/>
<rect x="431.2" y="385.9" width="29.1" height="26.1"/>
<rect x="660.5" y="625" width="29.1" height="26.1"/>
<rect x="712.5" y="608" width="29.1" height="26.1"/>
<rect x="726.5" y="654.7" width="29.1" height="26.1"/>
<rect x="612" y="678" width="29.1" height="26.1"/>
<rect x="771.5" y="668" width="29.1" height="26.1"/>
<rect x="738.2" y="674.4" width="29.1" height="26.1"/>
<rect x="783" y="674.4" width="29.1" height="26.1"/>
<rect x="826.9" y="687.9" width="29.1" height="26.1"/>
<rect x="852" y="678" width="29.1" height="26.1"/>
<rect x="889.5" y="711" width="29.1" height="26.1"/>
<rect x="912" y="658.2" width="29.1" height="26.1"/>
<rect x="923.5" y="625" width="29.1" height="26.1"/>
<rect x="804.5" y="738" width="29.1" height="26.1"/>
<rect x="597.5" y="721" width="29.1" height="26.1"/>
<rect x="680.1" y="710" width="29.1" height="26.1"/>
<rect x="705.2" y="677" width="29.1" height="26.1"/>
<rect x="623.5" y="744" width="29.1" height="26.1"/>
<rect x="645.2" y="744" width="29.1" height="26.1"/>
<rect x="634.5" y="754" width="29.1" height="26.1"/>
<rect x="620.1" y="771" width="29.1" height="26.1"/>
<rect x="844.8" y="754" width="29.1" height="26.1"/>
<rect x="852.9" y="767.5" width="29.1" height="26.1"/>
<rect x="837.5" y="781" width="29.1" height="26.1"/>
<rect x="878.8" y="784.5" width="29.1" height="26.1"/>
<rect x="904.8" y="804" width="29.1" height="26.1"/>
<rect x="660.5" y="808" width="29.1" height="26.1"/>
<rect x="775.5" y="511.9" width="29.1" height="26.1"/>
<rect x="852.5" y="817" width="29.1" height="26.1"/>
<rect x="468.1" y="635" width="29.1" height="26.1"/>
<rect x="549.2" y="631.5" width="29.1" height="26.1"/>
<rect x="509.1" y="658" width="29.1" height="26.1"/>
<rect x="531.5" y="675" width="29.1" height="26.1"/>
<rect x="486.8" y="697.6" width="29.1" height="26.1"/>
<rect x="434.9" y="730" width="29.1" height="26.1"/>
<rect x="338.2" y="777.7" width="29.1" height="26.1"/>
<rect x="360.6" y="817" width="29.1" height="26.1"/>
<rect x="418.4" y="647" width="29.1" height="26.1"/>
<rect x="418.4" y="687" width="29.1" height="26.1"/>
<rect x="582.5" y="701" width="29.1" height="26.1"/>
<rect x="575.5" y="712" width="29.1" height="26.1"/>
<rect x="1396.2" y="104" width="29.1" height="26.1"/>
<rect x="1385.5" y="120.6" width="29.1" height="26.1"/>
<rect x="1437.4" y="140.8" width="29.1" height="26.1"/>
<rect x="1159.8" y="233.4" width="29.1" height="26.1"/>
<rect x="1614.7" y="346.6" width="29.1" height="26.1"/>
<rect x="1415" y="435.8" width="29.1" height="26.1"/>
<rect x="1611" y="445.6" width="29.1" height="26.1"/>
<rect x="1663" y="449.2" width="29.1" height="26.1"/>
<rect x="1493" y="485.6" width="29.1" height="26.1"/>
<rect x="1573.5" y="481.9" width="29.1" height="26.1"/>
<rect x="1630" y="481.9" width="29.1" height="26.1"/>
<rect x="1703.5" y="475.8" width="29.1" height="26.1"/>
<rect x="1774.2" y="462.3" width="29.1" height="26.1"/>
<rect x="1725.9" y="512.5" width="29.1" height="26.1"/>
<rect x="1656" y="544.7" width="29.1" height="26.1"/>
<rect x="1670.5" y="559" width="29.1" height="26.1"/>
<rect x="1699.9" y="578.8" width="29.1" height="26.1"/>
<rect x="1587" y="512.5" width="29.1" height="26.1"/>
<rect x="1614.9" y="528.6" width="29.1" height="26.1"/>
<rect x="1545" y="525" width="29.1" height="26.1"/>
<rect x="1521.5" y="515" width="29.1" height="26.1"/>
<rect x="1503.5" y="535.8" width="29.1" height="26.1"/>
<rect x="1526.2" y="548.2" width="29.1" height="26.1"/>
<rect x="1485" y="538.5" width="29.1" height="26.1"/>
<rect x="1570" y="575" width="29.1" height="26.1"/>
<rect x="1604" y="598.5" width="29.1" height="26.1"/>
<rect x="1547.5" y="615.5" width="29.1" height="26.1"/>
<rect x="1566.5" y="662" width="29.1" height="26.1"/>
<rect x="1733" y="615.5" width="29.1" height="26.1"/>
<rect x="1677.5" y="602" width="29.1" height="26.1"/>
<rect x="1688.2" y="621.7" width="29.1" height="26.1"/>
<rect x="1710.5" y="645" width="29.1" height="26.1"/>
<rect x="1736.5" y="672" width="29.1" height="26.1"/>
<rect x="1747.5" y="693" width="29.1" height="26.1"/>
<rect x="1761.5" y="700" width="29.1" height="26.1"/>
<rect x="1063.9" y="317.6" width="29.1" height="26.1"/>
<rect x="1140.9" y="329.6" width="29.1" height="26.1"/>
<rect x="1038" y="349.9" width="29.1" height="26.1"/>
<rect x="1085.5" y="346.3" width="29.1" height="26.1"/>
<rect x="1101.5" y="346.3" width="29.1" height="26.1"/>
<rect x="1156.2" y="385.8" width="29.1" height="26.1"/>
<rect x="960.1" y="425.9" width="29.1" height="26.1"/>
<rect x="1052.2" y="422.4" width="29.1" height="26.1"/>
<rect x="1078.2" y="416.1" width="29.1" height="26.1"/>
<rect x="1108.7" y="418.8" width="29.1" height="26.1"/>
<rect x="1140.9" y="418.8" width="29.1" height="26.1"/>
<rect x="1185.7" y="425.9" width="29.1" height="26.1"/>
<rect x="1248.5" y="335.9" width="29.1" height="26.1"/>
<rect x="970.8" y="470.8" width="29.1" height="26.1"/>
<rect x="1230.5" y="477.9" width="29.1" height="26.1"/>
<rect x="1164.2" y="479.8" width="29.1" height="26.1"/>
<rect x="930.5" y="519" width="29.1" height="26.1"/>
<rect x="941.2" y="528.8" width="29.1" height="26.1"/>
<rect x="867.9" y="667.5" width="29.1" height="26.1"/>
<rect x="1218.8" y="608.4" width="29.1" height="26.1"/>
<rect x="1164.2" y="492.9" width="29.1" height="26.1"/>
<rect x="1185.7" y="498.2" width="29.1" height="26.1"/>
<rect x="890.2" y="699.8" width="29.1" height="26.1"/>
<rect x="963.7" y="475.9" width="29.1" height="26.1"/>
<rect x="1289.5" y="432.9" width="29.1" height="26.1"/>
<rect x="1270" y="399.4" width="29.1" height="26.1"/>
<rect x="1251.9" y="468.8" width="29.1" height="26.1"/>
<rect x="1341" y="485.8" width="29.1" height="26.1"/>
<rect x="1282.2" y="508.9" width="29.1" height="26.1"/>
<rect x="1259.9" y="525.2" width="29.1" height="26.1"/>
<rect x="1167.7" y="501.9" width="29.1" height="26.1"/>
<rect x="1245.5" y="710" width="29.1" height="26.1"/>
<rect x="426.9" y="388.9" width="29.1" height="26.1"/>
<rect x="426.9" y="391.2" width="29.1" height="26.1"/>
<rect x="426.9" y="393.4" width="29.1" height="26.1"/>
<rect x="426.9" y="395.7" width="29.1" height="26.1"/>
<rect x="426.9" y="397.9" width="29.1" height="26.1"/>
<rect x="426.9" y="400.2" width="29.1" height="26.1"/>
<rect x="426.9" y="402.4" width="29.1" height="26.1"/>
<rect x="426.9" y="404.7" width="29.1" height="26.1"/>
<rect x="426.9" y="406.9" width="29.1" height="26.1"/>
<rect x="426.4" y="408.9" width="29.1" height="26.1"/>
<rect x="425.7" y="411.4" width="29.1" height="26.1"/>
<rect x="424.9" y="413.9" width="29.1" height="26.1"/>
<rect x="424.2" y="416.4" width="29.1" height="26.1"/>
<rect x="423.4" y="418.9" width="29.1" height="26.1"/>
<rect x="422.9" y="420.9" width="29.1" height="26.1"/>
<rect x="422.3" y="423.7" width="29.1" height="26.1"/>
<rect x="421.7" y="426.4" width="29.1" height="26.1"/>
<rect x="421.1" y="429.2" width="29.1" height="26.1"/>
<rect x="420.4" y="431.9" width="29.1" height="26.1"/>
<rect x="419.4" y="434.4" width="29.1" height="26.1"/>
<rect x="418.8" y="437.6" width="29.1" height="26.1"/>
<rect x="418.2" y="440.6" width="29.1" height="26.1"/>
<rect x="417.6" y="443.8" width="29.1" height="26.1"/>
<rect x="417.1" y="446.8" width="29.1" height="26.1"/>
<rect x="416.4" y="449.9" width="29.1" height="26.1"/>
<rect x="416.4" y="457.9" width="29.1" height="26.1"/>
<rect x="416.4" y="466.9" width="29.1" height="26.1"/>
<rect x="412.6" y="472.6" width="29.1" height="26.1"/>
<rect x="446.1" y="472.6" width="29.1" height="26.1"/>
<rect x="470.1" y="482.9" width="29.1" height="26.1"/>
<rect x="437.4" y="456.9" width="29.1" height="26.1"/>
<rect x="437.4" y="462.9" width="29.1" height="26.1"/>
<rect x="451.4" y="491.9" width="29.1" height="26.1"/>
<rect x="432.4" y="506.9" width="29.1" height="26.1"/>
<rect x="421.4" y="565" width="29.1" height="26.1"/>
<rect x="425.4" y="569" width="29.1" height="26.1"/>
<rect x="437.4" y="627" width="29.1" height="26.1"/>
<polyline points="1410.7,117 1318,195"/>
<polyline points="1410.7,117 1253,272"/>
<polyline points="1174.3,246.5 1127,300"/>
<polyline points="430,500 452,352"/>
<polyline points="425,520 447,372"/>
<polyline points="420,545 440,440"/>
<polyline points="442,177 450.5,240"/>
<polyline points="446,205 449,240"/>
<polyline points="419.5,560 381,792.8"/>
<polyline points="470.6,560 387.3,792.8"/>
<polyline points="463.4,668.3 383.7,757"/>
<polyline points="479.5,661.2 449.1,739.1"/>
<polyline points="356.9,787.4 352.4,791 449.1,740.8 464.3,726.5"/>
<polyline points="443.7,709.5 449.1,739.1"/>
<polyline points="498.3,713.1 523.4,671.9 584.3,674.2"/>
<polyline points="560.1,654.5 564.6,644.5 659.5,693.4"/>
<polyline points="549.3,687.7 669.3,683.2"/>
<polyline points="612,677.3 672,678.5"/>
<polyline points="677,645 674.7,637 675.6,769.5"/>
<polyline points="721.2,650.4 715,676.4"/>
<polyline points="627.2,691.6 630.8,698.8"/>
<polyline points="611.1,741.7 649.6,767.7 627.2,731"/>
<polyline points="634.4,730.1 638,757 634.4,783.8 627.2,768.6"/>
<polyline points="649.6,735.5 663,764.1 668.4,792.8"/>
<polyline points="688.1,694.3 697.1,722.9 711.4,696.1"/>
<polyline points="774.3,590.7 789.5,525.7 788.3,578.1"/>
<polyline points="730.1,632.2 751.9,687.7 765.7,630"/>
<polyline points="787.4,618.2 785.9,680.5 838.8,700.6"/>
<polyline points="721.1,650.5 716.1,675.2"/>
<polyline points="939,614.3 937.2,637.6 926,678.4"/>
<polyline points="1002.6,485.7 1086.8,483.6"/>
<polyline points="1044.7,487.5 1100,489.8"/>
<polyline points="700,712.8 712.5,694.9"/>
<polyline points="627.4,768.9 634.3,784.2 637.3,753.7"/>
<polyline points="648.9,734.9 659.7,757.3 674.9,821.8 674.9,790.4"/>
<polyline points="611.3,742.1 649.8,767.7 627.4,732.2"/>
<polyline points="819.4,751 852.2,794 857.5,753.7"/>
<polyline points="853.9,743 867.7,830.7 854.3,809.2"/>
<polyline points="884.4,705.4 888.3,743.9"/>
<polyline points="909.8,755.9 904.1,724.2 893.3,798.1"/>
<polyline points="924.7,719.3 919.3,818.2 915.2,795.8"/>
<polyline points="824.4,759.1 833.4,774.3"/>
<polyline points="1125,294 1164.4,260"/>
<polyline points="1143.8,287.8 1164.4,260"/>
<polyline points="1191.2,291.3 1233.3,260"/>
<polyline points="1142.9,327.1 1159,315.5"/>
<polyline points="1073.1,345.9 1117.8,325.4 1049.8,414.9"/>
<polyline points="1010.4,405 1035.5,383.5"/>
<polyline points="1194.8,365.6 1151.9,343.3 1169.8,398.8 1160.8,391.6"/>
<polyline points="1062.3,363 1121.4,359.4 1126.8,367.4"/>
<polyline points="1086.5,380 1176.9,417.6"/>
<polyline points="1146.5,385.3 1233.3,358.5 1176.9,372.8"/>
<polyline points="974.6,439.1 1080.2,406.5"/>
<polyline points="1132.2,459.6 1092.8,429.2 1122.3,432.8 1141.1,412.2"/>
<polyline points="1074,445.3 1065.9,435.5 1160.8,489.2"/>
<polyline points="1001.5,480.2 1024.7,448.9"/>
<polyline points="1001.5,484.7 1086.5,483.8"/>
<polyline points="1044.4,487.4 1193,492.8"/>
<polyline points="1095.5,478.4 1105.3,492.8"/>
<polyline points="1230.6,383.5 1260,399.7"/>
<polyline points="1260,283.3 1168,417.6"/>
<polyline points="1096.3,480 1162.6,578.5"/>
<polyline points="1164.4,485.4 1216.3,585.6"/>
<polyline points="1196.6,509.5 1233.3,621.5"/>
<polyline points="1185,612.1 1245,711"/>
<polyline points="938.8,614.3 937,639.4 926.2,678.7"/>
<polyline points="1144.7,480 1182.3,498.8"/>
<polyline points="1288.8,420 1272.6,446.5"/>
<polyline points="1330.8,447.4 1304,446 1301.3,464.8"/>
<polyline points="1356.8,435.2 1348.7,459.4"/>
<polyline points="1339.8,486.2 1318.3,548.9"/>
<polyline points="1372,450.1 1543.9,464.8"/>
<polyline points="1430.2,449 1543.9,464.4"/>
<polyline points="1474.1,451.3 1550,455.8"/>
<polyline points="1450.8,479.1 1550,478.2"/>
<polyline points="1314.7,481.8 1381,480.9"/>
<polyline points="1372,503.3 1480.3,531"/>
<polyline points="1507.2,498.8 1550,513.1"/>
<polyline points="1271.8,494.3 1324.6,497.4"/>
<polyline points="1248.5,498.8 1273.5,538.2 1268.2,497"/>
<polyline points="1299.5,491.6 1296.8,522.1 1287,508.6"/>
<polyline points="1163.4,483.6 1181.3,498.8 1176.9,505 1216.2,585.6"/>
<polyline points="1196.6,509.5 1233.3,621.4"/>
<polyline points="1150,560.6 1162.5,578.5"/>
<polyline points="1184,611.9 1211.8,652.8"/>
<polyline points="1305.8,586.5 1283.4,652.8"/>
<polyline points="1499.1,551.6 1513.5,539.1"/>
<polyline points="1470,479 1566.7,478.1"/>
<polyline points="1584.6,470 1702.8,486.1"/>
<polyline points="1606.1,477.5 1699.2,476.3"/>
<polyline points="1507.6,498.6 1593.5,524.6 1611.5,524.6 1611.5,521"/>
<polyline points="1594.4,518.3 1588.2,495.1 1584.6,588.2"/>
<polyline points="1639.2,510.3 1644.6,495.1 1652.6,555.9"/>
<polyline points="1718,513 1714.4,591.8 1686.7,581.9"/>
<polyline points="1714.4,591.8 1723.4,575.6"/>
<polyline points="1736.8,537.1 1740.4,523.7 1727.8,632.9"/>
<polyline points="1735,644.6 1747.5,628.5 1750.2,667"/>
<polyline points="1541.6,530.9 1634.7,572.1"/>
<polyline points="1499.5,551.5 1514.8,538"/>
<polyline points="1534.5,563.1 1575.6,658 1545.2,561.3"/>
<polyline points="1602.5,557.7 1618.6,612.3 1627.6,548.8"/>
<polyline points="1692,611.5 1702.8,634.7"/>
<polyline points="1399.9,133.7 1191.3,291.3"/>
<polyline points="1439.3,173.1 1451.9,153.8 1420.5,245.6"/>
<polyline points="1418.7,207.5 1356.1,309.5"/>
<polyline points="1174.3,246.5 1160,266.2"/>
<polyline points="1408,283.2 1398.1,312.8"/>
<polyline points="1365.9,165.9 1285.3,254.6"/>
<polyline points="1258.5,284.1 1231.6,312.8"/>
<polyline points="1386.6,260 1356.1,309.8"/>
<polyline points="1407.7,283.3 1369.5,397"/>
<polyline points="1357,435.5 1348.1,460.5"/>
<polyline points="1629.2,362.4 1621.1,481.1"/>
<polyline points="1645.3,393.4 1676.6,461.4"/>
<polyline points="1371.3,449.8 1465.3,455.2"/>
<polyline points="1429.5,448.9 1544.1,464.1"/>
<polyline points="1473.4,451.2 1594.3,457"/>
<polyline points="1530.7,459.1 1651.5,466.8"/>
<polyline points="1583.5,470.4 1703.5,486.5"/>
<polyline points="1452.8,479.3 1566.5,478.1"/>
<polyline points="1606.8,477.5 1624.7,477.5"/>
<polyline points="1640.8,460.5 1676.6,461.4"/>
<polyline points="1690.9,468.6 1740,473.1"/>
<polyline points="1700,470.5 1788.5,476"/>
</g>
</g>
<g id="legend">
<rect x="1159.5" y="913.3" width="1017.1" height="248.9" fill="#fff" stroke="#000" stroke-opacity="0.55" stroke-width="1.3"/>
<line x1="1188.8" y1="950" x2="1336.9" y2="950" stroke="#000" stroke-width="7.3"/>
<ellipse cx="1262.9" cy="950.0" rx="14.6" ry="13.6" stroke="#000" stroke-width="7.1" fill="none"/>
<line x1="1188.8" y1="1006.5" x2="1336.9" y2="1006.5" stroke="#f00" stroke-width="7"/>
<line x1="1262.9" y1="992.9" x2="1262.9" y2="1020.1" stroke="#f00" stroke-width="7.8"/>
<line x1="1188.8" y1="1065.6" x2="1336.9" y2="1065.6" stroke="#00f" stroke-width="16.4"/>
<g stroke="#00f" stroke-opacity="0.8" fill="none" stroke-width="1">
<line x1="1188.8" y1="1122.4" x2="1336.9" y2="1122.4"/>
<rect x="1248.4" y="1109.1" width="29.1" height="26.1"/>
</g>
<g font-family="'Liberation Sans', Arial, Helvetica, sans-serif" font-size="44.5" fill="#000" style="font-kerning:none">
<text transform="translate(1352.2 966.4) scale(1.0905 1)" text-anchor="start">The trajectory indicated by FOG-INS</text>
<text transform="translate(1352.2 1026.6) scale(1.0905 1)" text-anchor="start">The trajectory indicated by PHINS</text>
<text transform="translate(1352.2 1086.8) scale(1.0905 1)" text-anchor="start">The trajecy after matching(improved )</text>
<text transform="translate(1352.2 1146.6) scale(1.0905 1)" text-anchor="start">The trajecy after matching(standard)</text>
</g></g>
</svg>
</body></html>
